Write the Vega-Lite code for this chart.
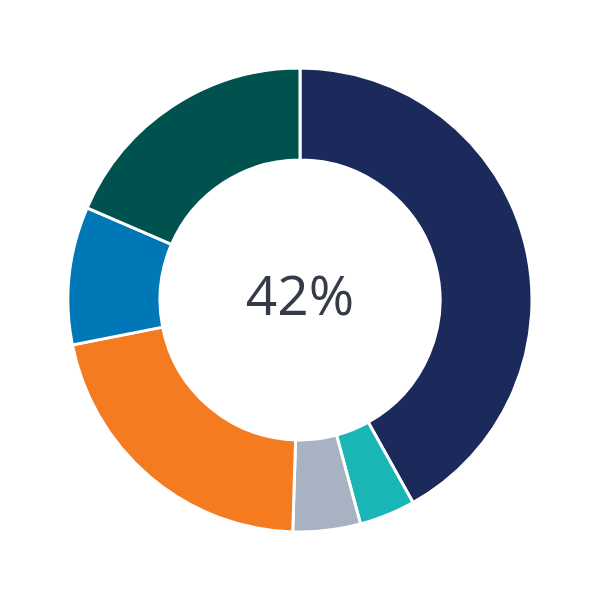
{
  "$schema": "https://vega.github.io/schema/vega-lite/v6.json",
  "width": 600,
  "height": 600,
  "autosize": {"type": "fit", "contains": "padding"},
  "padding": 0,
  "background": "#ffffff",
  "config": {"view": {"stroke": "transparent"}},
  "layer": [
    {
      "data": {
        "values": [
          {"segment": "A", "value": 41.9, "rank": 1},
          {"segment": "B", "value": 3.9, "rank": 2},
          {"segment": "C", "value": 4.7, "rank": 3},
          {"segment": "D", "value": 21.4, "rank": 4},
          {"segment": "E", "value": 9.6, "rank": 5},
          {"segment": "F", "value": 18.5, "rank": 6}
        ]
      },
      "mark": {"type": "arc", "outerRadius": 232, "innerRadius": 140, "stroke": "#ffffff", "strokeWidth": 3},
      "encoding": {
        "theta": {"field": "value", "type": "quantitative", "stack": true},
        "order": {"field": "rank", "type": "quantitative"},
        "color": {
          "field": "segment",
          "type": "nominal",
          "legend": null,
          "scale": {
            "domain": ["A", "B", "C", "D", "E", "F"],
            "range": ["#1b2a5a", "#1ab5b5", "#a7b3c2", "#f47b20", "#0077b6", "#00524f"]
          }
        }
      }
    },
    {
      "data": {"values": [{"label": "42%"}]},
      "mark": {"type": "text", "font": "Open Sans", "fontSize": 55, "fontWeight": 400, "color": "#353b47", "baseline": "alphabetic", "align": "center", "dy": 15},
      "encoding": {
        "text": {"field": "label", "type": "nominal"}
      }
    }
  ]
}
